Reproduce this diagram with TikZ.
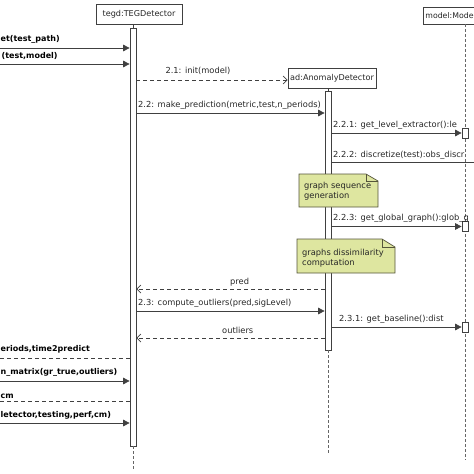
\documentclass[tikz,border=0pt]{standalone}
\usepackage{fontspec}
\setmainfont{DejaVu Sans}
\usetikzlibrary{arrows.meta}
\definecolor{ln}{HTML}{404040}
\definecolor{notefill}{RGB}{222,230,160}
\definecolor{noteline}{HTML}{55553a}
\begin{document}
\begin{tikzpicture}[x=1pt,y=-1pt,
  lbl/.style={font=\fontsize{8.3}{10}\selectfont, text=black!85, inner sep=0pt},
  blbl/.style={font=\fontsize{8}{10}\selectfont\bfseries, text=black, inner sep=0pt},
  objbox/.style={draw=ln, fill=white, line width=0.8pt, inner sep=0pt, font=\fontsize{8.1}{10}\selectfont, text=black!85},
  actbar/.style={draw=ln, fill=white, line width=0.7pt, inner sep=0pt, minimum width=6pt},
  lifeline/.style={draw=ln!80, line width=0.7pt, dash pattern=on 3pt off 2pt},
  msg/.style={draw=ln, line width=0.7pt, -{Triangle[length=6.5pt,width=6.5pt]}},
  ret/.style={draw=ln, line width=0.7pt, dash pattern=on 4pt off 3pt, -{Straight Barb[length=4pt,width=8pt]}},
  retplain/.style={draw=ln, line width=0.7pt, dash pattern=on 4pt off 3pt},
  notebg/.style={draw=noteline, fill=notefill, line width=0.7pt},
  notefold/.style={draw=noteline, line width=0.7pt},
]
\useasboundingbox (0,0) rectangle (474,474);
\clip (0,0) rectangle (474,474);

% lifeline boxes
\node[objbox, minimum width=86pt, minimum height=20pt] (tbox) at (139,14) {tegd:TEGDetector};
\node[objbox, minimum width=88pt, minimum height=20pt] (abox) at (332,78) {ad:AnomalyDetector};
\node[objbox, font=\fontsize{7.8}{10}\selectfont, anchor=west, text width=58pt, align=left, inner xsep=2pt, minimum height=17pt] (mbox) at (423,15.5) {model:Mode};

% lifelines
\coordinate (tend) at (133,470);
\coordinate (aend) at (328,455);
\coordinate (mend) at (465,460);
\coordinate (mtop) at (465,24);
\draw[lifeline] (mtop) -- (mend);
\draw[ln, line width=0.7pt] (133,24) -- (133,28);
\draw[ln, line width=0.7pt] (328,88) -- (328,91);

% activation bars
\node[actbar, minimum height=418pt] (tb) at (133,237) {};
\draw[lifeline] (tb.south) -- (tend);
\node[actbar, minimum height=259pt] (ab) at (328,220.5) {};
\draw[lifeline] (ab.south) -- (aend);
\node[actbar, minimum height=10pt] (mb1) at (465,133) {};
\node[actbar, minimum height=10pt] (mb2) at (465,226.5) {};
\node[actbar, minimum height=10pt] (mb3) at (465,327) {};

% left incoming messages
\coordinate (e1) at (-2,48);
\draw[msg] (e1) -- (e1 -| tb.west);
\node[blbl, anchor=west] (t1) at (0.5,39) {et(test\_path)};
\coordinate (e2) at (-2,64);
\draw[msg] (e2) -- (e2 -| tb.west);
\node[blbl, anchor=west] (t2) at (1.5,56) {(test,model)};

% 2.1
\coordinate (y21) at (0,80);
\draw[ret] (y21 -| tb.east) -- (y21 -| abox.west);
\node[lbl] (l21) at (198,71) {2.1: init(model)};

% 2.2
\coordinate (y22) at (0,113);
\draw[msg] (y22 -| tb.east) -- (y22 -| ab.west);
\node[lbl, anchor=west] (l22) at (138,105) {2.2: make\_prediction(metric,test,n\_periods)};

% 2.2.1
\draw[msg] (mb1.west -| ab.east) -- (mb1.west);
\node[lbl, anchor=west] (l221) at (333,125) {2.2.1: get\_level\_extractor():le};

% 2.2.2
\coordinate (y222) at (476,162);
\draw[ln, line width=0.7pt] (y222 -| ab.east) -- (y222);
\node[lbl, anchor=west] (l222) at (333,155) {2.2.2: discretize(test):obs\_discr};

% 2.2.3
\draw[msg] (mb2.west -| ab.east) -- (mb2.west);
\node[lbl, anchor=west] (l223) at (333,218) {2.2.3: get\_global\_graph():glob\_g};

% notes
\draw[notebg] (299,174) -- (366,174) -- (378,181) -- (378,207) -- (299,207) -- cycle;
\draw[notefold] (366,174) -- (366,181) -- (378,181);
\node[lbl, anchor=north west, align=left] (n1) at (304,182) {graph sequence\\generation};

\draw[notebg] (297,239) -- (382,239) -- (395,247) -- (395,273) -- (297,273) -- cycle;
\draw[notefold] (382,239) -- (382,247) -- (395,247);
\node[lbl, anchor=north west, align=left] (n2) at (302,249) {graphs dissimilarity\\computation};

% pred
\coordinate (ypred) at (0,289);
\draw[ret] (ypred -| ab.west) -- (ypred -| tb.east);
\node[lbl, anchor=west] (lpred) at (230,282) {pred};

% 2.3
\coordinate (y23) at (0,311);
\draw[msg] (y23 -| tb.east) -- (y23 -| ab.west);
\node[lbl, anchor=west] (l23) at (138,303) {2.3: compute\_outliers(pred,sigLevel)};

% 2.3.1
\draw[msg] (mb3.west -| ab.east) -- (mb3.west);
\node[lbl, anchor=west] (l231) at (339,319) {2.3.1: get\_baseline():dist};

% outliers
\coordinate (yout) at (0,338);
\draw[ret] (yout -| ab.west) -- (yout -| tb.east);
\node[lbl, anchor=west] (lout) at (222,330) {outliers};

% left outgoing / incoming
\coordinate (e3) at (-2,358);
\draw[retplain] (e3 -| tb.west) -- (e3);
\node[blbl, anchor=west] (t3) at (0.5,349) {eriods,time2predict};
\coordinate (e4) at (-2,381);
\draw[msg] (e4) -- (e4 -| tb.west);
\node[blbl, anchor=west] (t4) at (0.5,372) {n\_matrix(gr\_true,outliers)};
\coordinate (e5) at (-2,401);
\draw[retplain] (e5 -| tb.west) -- (e5);
\node[blbl, anchor=west] (t5) at (0.5,396) {cm};
\coordinate (e6) at (-2,423);
\draw[msg] (e6) -- (e6 -| tb.west);
\node[blbl, anchor=west] (t6) at (0.5,415) {letector,testing,perf,cm)};
\end{tikzpicture}
\end{document}
